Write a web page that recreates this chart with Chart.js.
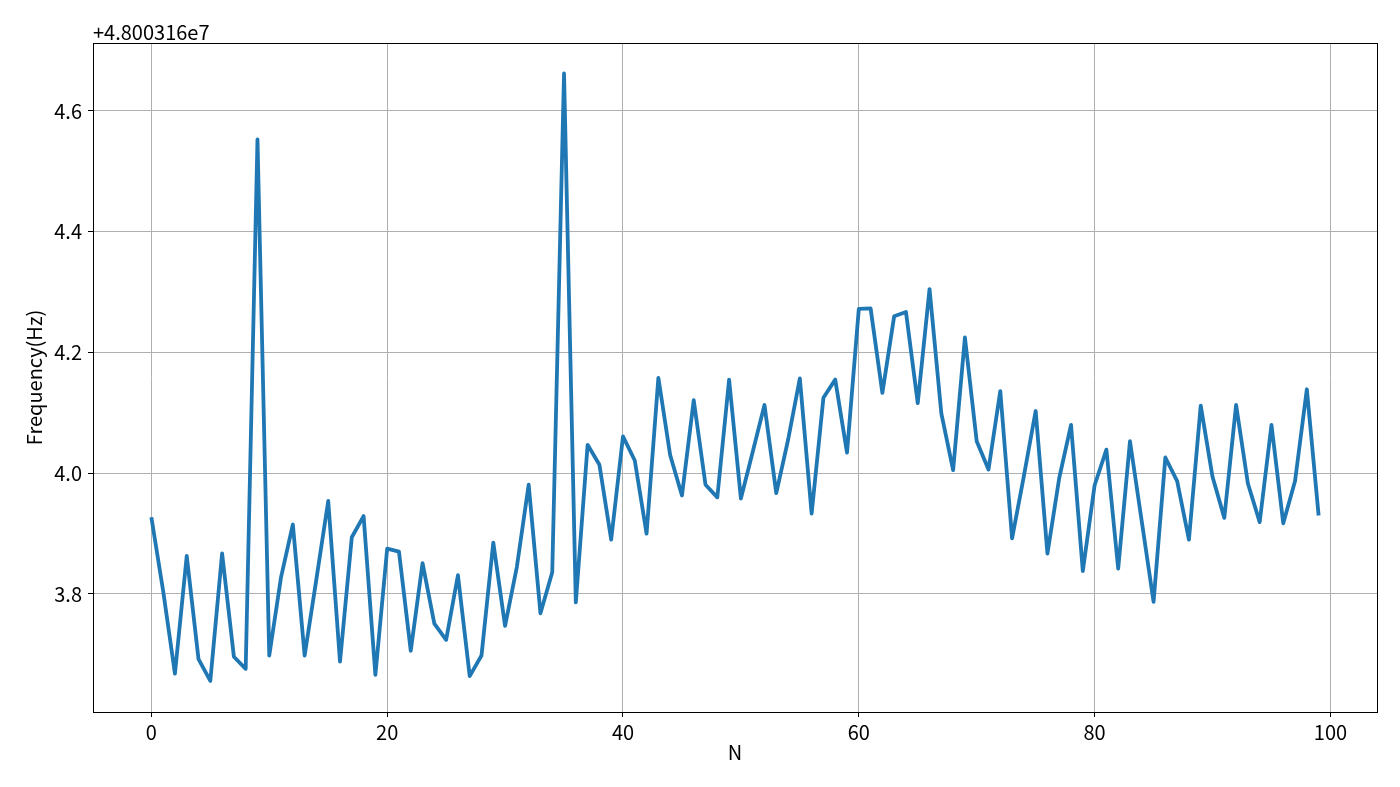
<!DOCTYPE html>
<html>
<head>
<meta charset="utf-8">
<script src="https://cdn.jsdelivr.net/npm/chart.js@4/dist/chart.umd.min.js"></script>
<style>
html,body{margin:0;padding:0;background:#fff;}
#wrap{width:1400px;height:787px;}
</style>
</head>
<body>
<div id="wrap"><canvas id="c" width="1400" height="787"></canvas></div>
<script>
// Sample index
const N_VALUES = Array.from({length: 100}, (_, i) => i);
// Frequency relative to offset (Hz)
const FREQ_OFFSET_LABEL = "+4.800316e7";
const FREQ = [
  3.927, 3.805, 3.668, 3.863, 3.692, 3.656, 3.867, 3.696, 3.676, 4.553,
  3.698, 3.828, 3.915, 3.698, 3.825, 3.954, 3.688, 3.894, 3.929, 3.666,
  3.875, 3.870, 3.706, 3.851, 3.751, 3.724, 3.831, 3.664, 3.698, 3.885,
  3.747, 3.845, 3.981, 3.768, 3.836, 4.662, 3.786, 4.047, 4.014, 3.890,
  4.061, 4.021, 3.900, 4.158, 4.030, 3.963, 4.121, 3.981, 3.960, 4.155,
  3.958, 4.035, 4.113, 3.967, 4.055, 4.157, 3.933, 4.125, 4.155, 4.034,
  4.272, 4.273, 4.133, 4.260, 4.267, 4.116, 4.305, 4.099, 4.005, 4.225,
  4.053, 4.006, 4.136, 3.892, 3.995, 4.103, 3.867, 3.992, 4.080, 3.838,
  3.980, 4.039, 3.842, 4.053, 3.920, 3.787, 4.026, 3.987, 3.890, 4.112,
  3.994, 3.926, 4.113, 3.983, 3.919, 4.080, 3.917, 3.987, 4.139, 3.930
];
const X_TICKS = [0, 20, 40, 60, 80, 100];
const Y_TICKS = [3.8, 4.0, 4.2, 4.4, 4.6];
const X_TITLE = "N";
const Y_TITLE = "Frequency(Hz)";

const FONT = "'Noto Sans CJK SC', 'DejaVu Sans', sans-serif";
const FS = 20;

const frame = {
  id: 'frame',
  afterDraw(chart) {
    const {ctx, chartArea: a} = chart;
    ctx.save();
    ctx.strokeStyle = '#000';
    ctx.lineWidth = 1;
    ctx.strokeRect(Math.round(a.left) + 0.5, Math.round(a.top) + 0.5,
                   Math.round(a.right - a.left), Math.round(a.bottom - a.top));
    ctx.fillStyle = '#000';
    ctx.font = FS + 'px ' + FONT;
    ctx.textAlign = 'left';
    ctx.textBaseline = 'bottom';
    ctx.fillText(FREQ_OFFSET_LABEL, a.left, a.top - 1);
    ctx.restore();
  }
};

new Chart(document.getElementById('c'), {
  type: 'line',
  data: {
    datasets: [{
      data: N_VALUES.map((n, i) => ({x: n, y: FREQ[i]})),
      borderColor: '#1f77b4',
      borderWidth: 3.8,
      borderJoinStyle: 'round',
      borderCapStyle: 'butt',
      pointRadius: 0,
      tension: 0,
      fill: false
    }]
  },
  options: {
    responsive: false,
    animation: false,
    devicePixelRatio: 1,
    layout: {padding: {top: 43, right: 23, left: 0, bottom: 0}},
    plugins: {legend: {display: false}, tooltip: {enabled: false}},
    scales: {
      x: {
        type: 'linear',
        min: -4.95, max: 103.95,
        afterFit(s) { s.height = 75; },
        afterBuildTicks(s) { s.ticks = X_TICKS.map(v => ({value: v})); },
        ticks: {
          color: '#000', font: {family: FONT, size: FS}, padding: 3,
          maxRotation: 0, callback: v => String(v)
        },
        grid: {color: '#b0b0b0', lineWidth: 1, tickLength: 5, tickColor: '#000', drawTicks: true},
        border: {display: false},
        title: {display: true, text: X_TITLE, color: '#000', font: {family: FONT, size: FS},
                padding: {top: 0, bottom: 23}}
      },
      y: {
        type: 'linear',
        min: 3.6045, max: 4.7125,
        afterFit(s) { s.width = 93; },
        afterBuildTicks(s) { s.ticks = Y_TICKS.map(v => ({value: v})); },
        ticks: {
          color: '#000', font: {family: FONT, size: FS}, padding: 6,
          callback: v => Number(v).toFixed(1)
        },
        grid: {color: '#b0b0b0', lineWidth: 1, tickLength: 5, tickColor: '#000', drawTicks: true},
        border: {display: false},
        title: {display: true, text: Y_TITLE, color: '#000', font: {family: FONT, size: FS},
                padding: {top: 22, bottom: 0}}
      }
    }
  },
  plugins: [frame]
});
</script>
</body>
</html>
